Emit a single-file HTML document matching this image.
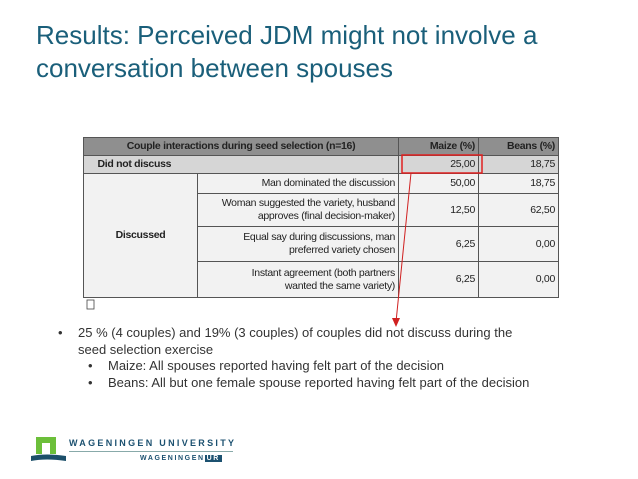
<!DOCTYPE html>
<html><head><meta charset="utf-8"><style>
body{margin:0;width:638px;height:479px;background:#fff;position:relative;overflow:hidden;font-family:"Liberation Sans",sans-serif}
.abs{position:absolute}
h1{position:absolute;left:36px;top:19px;margin:0;font-weight:normal;font-size:26px;line-height:33px;color:#1a5f7a}
table{position:absolute;left:83px;top:137px;border-collapse:collapse;font-size:10.5px;color:#222;letter-spacing:-0.3px;table-layout:fixed}
td{border:1.5px solid #555;padding:0 3px;background:#f2f2f2;line-height:13px;white-space:nowrap}
.b{font-weight:bold}
.bl{position:absolute;font-size:13px;color:#333;line-height:16.5px}
</style></head><body>
<h1>Results: Perceived JDM might not involve a conversation between spouses</h1>
<table>
<colgroup><col style="width:114px"><col style="width:201px"><col style="width:80px"><col style="width:80px"></colgroup>
<tr style="height:18px"><td colspan="2" class="b" style="background:#8f8f8f;text-align:center">Couple interactions during seed selection (n=16)</td><td class="b" style="background:#8f8f8f;text-align:right">Maize (%)</td><td class="b" style="background:#8f8f8f;text-align:right">Beans (%)</td></tr>
<tr style="height:18px"><td colspan="2" class="b" style="background:#d6d6d6">&nbsp;&nbsp;&nbsp;&nbsp;Did not discuss</td><td style="background:#d6d6d6;text-align:right">25,00</td><td style="background:#d6d6d6;text-align:right">18,75</td></tr>
<tr style="height:20px"><td rowspan="4" class="b" style="text-align:center">Discussed</td><td style="text-align:right">Man dominated the discussion</td><td style="text-align:right">50,00</td><td style="text-align:right">18,75</td></tr>
<tr style="height:33px"><td style="text-align:right">Woman suggested the variety, husband<br>approves (final decision-maker)</td><td style="text-align:right">12,50</td><td style="text-align:right">62,50</td></tr>
<tr style="height:35px"><td style="text-align:right">Equal say during discussions, man<br>preferred variety chosen</td><td style="text-align:right">6,25</td><td style="text-align:right">0,00</td></tr>
<tr style="height:36px"><td style="text-align:right">Instant agreement (both partners<br>wanted the same variety)</td><td style="text-align:right">6,25</td><td style="text-align:right">0,00</td></tr>
</table>
<svg class="abs" style="left:0;top:0" width="638" height="479">
<rect x="402" y="155" width="80" height="18" fill="none" stroke="#e02020" stroke-width="1.5"/>
<line x1="411" y1="173" x2="396" y2="322" stroke="#d02020" stroke-width="1"/>
<polygon points="392,318 400,318 396,327" fill="#d02020"/>
<rect x="87" y="300" width="7" height="9" fill="none" stroke="#444" stroke-width="0.8"/>
</svg>
<div class="bl" style="left:58px;top:325px;width:520px">
<div style="display:flex"><span style="width:20px">•</span><span>25 % (4 couples) and 19% (3 couples) of couples did not discuss during the<br>seed selection exercise</span></div>
<div style="display:flex;margin-left:30px"><span style="width:20px">•</span><span>Maize: All spouses reported having felt part of the decision</span></div>
<div style="display:flex;margin-left:30px"><span style="width:20px">•</span><span>Beans: All but one female spouse reported having felt part of the decision</span></div>
</div>
<div class="abs" style="left:30px;top:437px">
<svg width="40" height="28"><rect x="6" y="0" width="20" height="17" fill="#6cbf3a"/><rect x="12" y="6" width="8" height="11" fill="#fff"/><path d="M1 19 Q16 16 36 19 L36 24 Q16 21 1 24Z" fill="#1c4f6a"/></svg>
</div>
<div class="abs" style="left:69px;top:438px;font-size:9px;font-weight:bold;letter-spacing:2.3px;color:#1c5170">WAGENINGEN UNIVERSITY</div>
<div class="abs" style="left:69px;top:451px;width:164px;border-top:1px solid #8aa"></div>
<div class="abs" style="left:140px;top:455px;font-size:7px;font-weight:bold;letter-spacing:1.6px;color:#1c5170">WAGENINGEN<span style="background:#1c5170;color:#fff;padding:0 2px">UR</span></div>
</body></html>
